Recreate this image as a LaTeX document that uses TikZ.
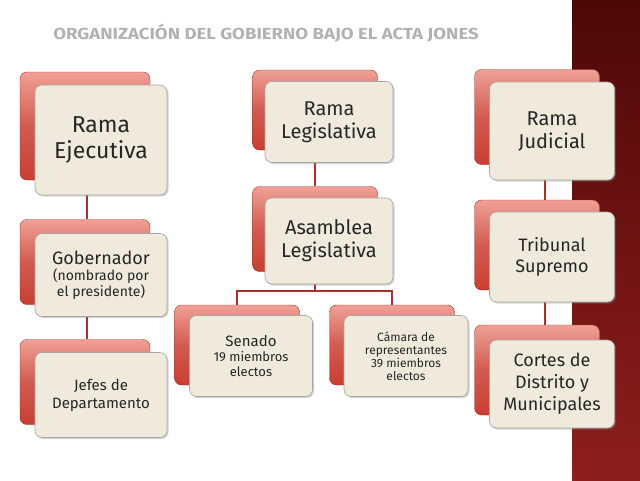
\documentclass[tikz,border=0pt]{standalone}
\usepackage{fontspec}
\setmainfont{Fira Sans}
\usetikzlibrary{shadows,backgrounds}
\definecolor{cream}{HTML}{EFEADC}
\definecolor{conn}{HTML}{A8322A}
\definecolor{redlt}{HTML}{F0A096}
\definecolor{redmd}{HTML}{C93E32}
\definecolor{band1}{HTML}{4E0808}
\definecolor{band2}{HTML}{8E1E1C}
\tikzset{
 backbox/.style={rectangle, rounded corners=7pt, draw=redmd!80!black, line width=0.4pt,
   top color=redlt, bottom color=redmd, middle color=redmd!85!white, inner sep=0pt},
 frontbox/.style={rectangle, rounded corners=7pt, draw=gray!70, line width=0.6pt, fill=cream,
   drop shadow={shadow xshift=1.5pt, shadow yshift=-1.5pt, opacity=0.35}, align=center,
   inner sep=2pt, text=black!85},
 link/.style={draw=conn, line width=2.6pt}
}
\begin{document}
\begin{tikzpicture}[x=1pt,y=-1pt]
\useasboundingbox (0,0) rectangle (640,480);
\node[font=\bfseries\fontsize{16}{16}\selectfont, text=gray!60, xscale=1.16] (title) at (266,33) {ORGANIZACIÓN DEL GOBIERNO BAJO EL ACTA JONES};

% column 1
\node[backbox, minimum width=130pt, minimum height=108pt] (e1b) at (85,126) {};
\node[frontbox, minimum width=132pt, minimum height=110pt, font=\fontsize{23}{26}\selectfont] (e1) at (101,140) {Rama\\Ejecutiva};
\node[backbox, minimum width=130pt, minimum height=85pt] (e2b) at (85,262) {};
\node[frontbox, minimum width=132pt, minimum height=83pt, font=\fontsize{14}{16}\selectfont] (e2) at (101,275) {{\fontsize{18}{22}\selectfont Gobernador}\\(nombrado por\\el presidente)};
\node[backbox, minimum width=130pt, minimum height=85pt] (e3b) at (85,382) {};
\node[frontbox, minimum width=132pt, minimum height=85pt, font=\fontsize{15}{18}\selectfont] (e3) at (101,395) {Jefes de\\Departamento};

% column 2
\node[backbox, minimum width=125pt, minimum height=80pt] (l1b) at (315,110) {};
\node[frontbox, minimum width=128pt, minimum height=81pt, font=\fontsize{20}{23}\selectfont] (l1) at (329,122) {Rama\\Legislativa};
\node[backbox, minimum width=125pt, minimum height=85pt] (l2b) at (315,229) {};
\node[frontbox, minimum width=128pt, minimum height=86pt, font=\fontsize{20}{23}\selectfont] (l2) at (329,241) {Asamblea\\Legislativa};
\node[backbox, minimum width=125pt, minimum height=80pt] (s1b) at (237,345) {};
\node[frontbox, minimum width=123pt, minimum height=81pt, font=\fontsize{13}{15}\selectfont] (s1) at (251,356) {{\fontsize{15}{17}\selectfont Senado}\\19 miembros\\electos};
\node[backbox, minimum width=125pt, minimum height=80pt] (s2b) at (392,345) {};
\node[frontbox, minimum width=124pt, minimum height=81pt, font=\fontsize{12}{13}\selectfont] (s2) at (406,356) {Cámara de\\representantes\\39 miembros\\electos};
\coordinate (jn) at (315,291);

% column 3
\node[backbox, minimum width=125pt, minimum height=95pt] (j1b) at (537,117) {};
\node[frontbox, minimum width=125pt, minimum height=98pt, font=\fontsize{20}{23}\selectfont] (j1) at (552,131) {Rama\\Judicial};
\node[backbox, minimum width=125pt, minimum height=90pt] (j2b) at (537,245) {};
\node[frontbox, minimum width=125pt, minimum height=90pt, font=\fontsize{18}{21}\selectfont] (j2) at (552,257) {Tribunal\\Supremo};
\node[backbox, minimum width=125pt, minimum height=90pt] (j3b) at (537,370) {};
\node[frontbox, minimum width=125pt, minimum height=88pt, font=\fontsize{18}{22}\selectfont] (j3) at (552,384) {Cortes de\\Distrito y\\Municipales};
\coordinate (jx) at (545,0);

\begin{scope}[on background layer]
\fill[white] (0,0) rectangle (640,480);
\shade[top color=band1, bottom color=band2] (572,0) rectangle (640,480);
\draw[link] (e1.south -| 87,0) -- (e2b.north -| 87,0);
\draw[link] (e2.south -| 87,0) -- (e3b.north -| 87,0);
\draw[link] (l1.south -| jn) -- (l2b.north -| jn);
\draw[link] (jn |- l2.south) -- (jn) -| (s1b.north);
\draw[link] (jn) -| (s2b.north);
\draw[link] (j1.south -| jx) -- (j2b.north -| jx);
\draw[link] (j2.south -| jx) -- (j3b.north -| jx);
\end{scope}
\end{tikzpicture}
\end{document}
